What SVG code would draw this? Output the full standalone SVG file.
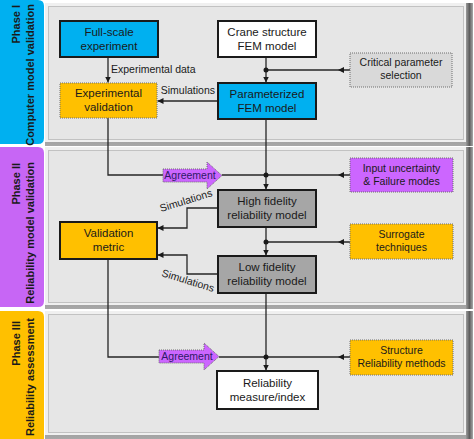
<svg xmlns="http://www.w3.org/2000/svg" width="474" height="439" viewBox="0 0 474 439">
<style>
.t{font-family:"Liberation Sans",Arial,sans-serif;font-size:11.5px;fill:#1a1a1a;text-anchor:middle}
.s{font-family:"Liberation Sans",Arial,sans-serif;font-size:10.5px;fill:#1a1a1a;text-anchor:middle}
.l{font-family:"Liberation Sans",Arial,sans-serif;font-size:10.5px;fill:#1a1a1a}
.ag{font-family:"Liberation Sans",Arial,sans-serif;font-size:10.5px;fill:#2e1a66;text-anchor:middle}
.tab{font-family:"Liberation Sans",Arial,sans-serif;font-size:11px;font-weight:bold;fill:#1a1a1a;text-anchor:end}
.main{stroke:#1a1a1a;stroke-width:2}
.dot{stroke:#6f6f6f;stroke-width:1;stroke-dasharray:1 1}
.c{fill:none;stroke:#262626;stroke-width:1.3}
.pin{fill:#e6e6e6;stroke:#c2c2c2;stroke-width:1}
.pfr{fill:#f0f0f0}
.blue{fill:#00b0f0}
.orange{fill:#ffc000}
.purple{fill:#cc66ff}
.gray{fill:#a6a6a6}
.lgray{fill:#d9d9d9}
.white{fill:#ffffff}
</style>
<defs>
<marker id="ah" viewBox="0 0 6 6" refX="6" refY="3" markerWidth="6" markerHeight="6" markerUnits="userSpaceOnUse" orient="auto">
<path d="M0,0 L6,3 L0,6 z" fill="#1a1a1a"/>
</marker>
<linearGradient id="shR" x1="0" y1="0" x2="1" y2="0">
<stop offset="0" stop-color="#9a9a9a"/><stop offset="0.5" stop-color="#5e5e5e"/><stop offset="1" stop-color="#a8a8a8"/>
</linearGradient>
<linearGradient id="shB" x1="0" y1="0" x2="0" y2="1">
<stop offset="0" stop-color="#9a9a9a"/><stop offset="0.5" stop-color="#5e5e5e"/><stop offset="1" stop-color="#a8a8a8"/>
</linearGradient>
</defs>
<rect width="474" height="439" fill="#ffffff"/>

<!-- Panels -->
<g id="panel1">
<rect x="45" y="3" width="428" height="143" fill="url(#shB)"/>
<rect x="466" y="3" width="7" height="143" fill="url(#shR)"/>
<rect class="pfr" x="45" y="3" width="421" height="139"/>
<rect class="pin" x="48.5" y="6.5" width="415" height="133"/>
</g>
<g id="panel2">
<rect x="45" y="147" width="428" height="162" fill="url(#shB)"/>
<rect x="466" y="147" width="7" height="162" fill="url(#shR)"/>
<rect class="pfr" x="45" y="147" width="421" height="158"/>
<rect class="pin" x="48.5" y="150.5" width="415" height="152"/>
</g>
<g id="panel3">
<rect x="45" y="311" width="428" height="128" fill="url(#shB)"/>
<rect x="466" y="311" width="7" height="128" fill="url(#shR)"/>
<rect class="pfr" x="45" y="311" width="421" height="124"/>
<rect class="pin" x="48.5" y="314.5" width="415" height="118"/>
</g>

<!-- Phase tabs -->
<g id="tab1">
<path d="M0,0 H38 Q44,0 44,6 V138 Q44,144 38,144 H0 z" fill="#00b0f0"/>
<text class="tab" transform="translate(20,5) rotate(-90)">Phase I</text>
<text class="tab" transform="translate(34,4) rotate(-90)">Computer model validation</text>
</g>
<g id="tab2">
<path d="M0,147 H38 Q44,147 44,153 V301 Q44,307 38,307 H0 z" fill="#c766f5"/>
<text class="tab" transform="translate(20,163) rotate(-90)">Phase II</text>
<text class="tab" transform="translate(34,162) rotate(-90)">Reliability model validation</text>
</g>
<g id="tab3">
<path d="M0,311 H38 Q44,311 44,317 V439 H0 z" fill="#ffc000"/>
<text class="tab" transform="translate(20,321) rotate(-90)">Phase III</text>
<text class="tab" transform="translate(34,318) rotate(-90)">Reliability assessment</text>
</g>

<!-- Connectors -->
<g id="connectors">
<path class="c" d="M108,57 V82.5" marker-end="url(#ah)"/>
<path class="c" d="M266,57 V82.5" marker-end="url(#ah)"/>
<path class="c" d="M350,70 H266"/>
<path d="M338,70 L344,67 L344,73 z" fill="#1a1a1a"/>
<path class="c" d="M218,101 H157.5" marker-end="url(#ah)"/>
<path class="c" d="M108,118 V175 H163"/>
<path class="c" d="M222,175 H266"/>
<path class="c" d="M266,119 V189.5" marker-end="url(#ah)"/>
<path class="c" d="M350,175 H266"/>
<path d="M338,175 L344,172 L344,178 z" fill="#1a1a1a"/>
<path class="c" d="M218,208 H187 V228 H157.5" marker-end="url(#ah)"/>
<path class="c" d="M218,274 H187 V255 H157.5" marker-end="url(#ah)"/>
<path class="c" d="M266,227 V255.5" marker-end="url(#ah)"/>
<path class="c" d="M350,242 H266"/>
<path d="M338,242 L344,239 L344,245 z" fill="#1a1a1a"/>
<path class="c" d="M108,259 V357 H159"/>
<path class="c" d="M219,357 H266"/>
<path class="c" d="M266,293 V370.5" marker-end="url(#ah)"/>
<path class="c" d="M350,357 H266"/>
<path d="M338,357 L344,354 L344,360 z" fill="#1a1a1a"/>
<circle cx="266" cy="70" r="2.5" fill="#1a1a1a"/>
<circle cx="266" cy="175" r="2.5" fill="#1a1a1a"/>
<circle cx="266" cy="242" r="2.5" fill="#1a1a1a"/>
<circle cx="266" cy="357" r="2.5" fill="#1a1a1a"/>
<text class="l" x="111" y="73">Experimental data</text>
<text class="l" x="215" y="94" text-anchor="end">Simulations</text>
<text class="l" transform="translate(187,204) rotate(-17)" text-anchor="middle">Simulations</text>
<text class="l" transform="translate(187,284) rotate(17)" text-anchor="middle">Simulations</text>
</g>

<!-- Nodes -->
<g id="full-scale">
<rect class="blue main" x="60" y="21" width="98" height="36"/>
<text class="t" x="109" y="35.5">Full-scale</text>
<text class="t" x="109" y="49.5">experiment</text>
</g>
<g id="crane">
<rect class="white main" x="218" y="21" width="98" height="36"/>
<text class="t" x="267" y="35.5">Crane structure</text>
<text class="t" x="267" y="49.5">FEM model</text>
</g>
<g id="critical">
<rect class="lgray dot" x="350" y="53" width="102" height="34"/>
<text class="s" x="401" y="66">Critical parameter</text>
<text class="s" x="401" y="79">selection</text>
</g>
<g id="exp-validation">
<rect class="orange dot" x="60" y="83" width="97" height="35"/>
<text class="t" x="108.5" y="97">Experimental</text>
<text class="t" x="108.5" y="111">validation</text>
</g>
<g id="param-fem">
<rect class="blue main" x="218" y="83" width="98" height="36"/>
<text class="t" x="267" y="97.5">Parameterized</text>
<text class="t" x="267" y="111.5">FEM model</text>
</g>
<g id="agreement1">
<path class="purple dot" d="M163,169 H207 V162 L222,175.5 L207,189 V182 H163 z"/>
<text class="ag" x="190" y="179">Agreement</text>
</g>
<g id="input-uncertainty">
<rect class="purple dot" x="350" y="158" width="103" height="34"/>
<text class="s" x="401.5" y="171.5">Input uncertainty</text>
<text class="s" x="401.5" y="184.5">&amp; Failure modes</text>
</g>
<g id="high-fidelity">
<rect class="gray main" x="218" y="190" width="98" height="37"/>
<text class="t" x="267" y="205">High fidelity</text>
<text class="t" x="267" y="219">reliability model</text>
</g>
<g id="validation-metric">
<rect class="orange main" x="60" y="222" width="97" height="37"/>
<text class="t" x="108.5" y="237">Validation</text>
<text class="t" x="108.5" y="251">metric</text>
</g>
<g id="surrogate">
<rect class="orange dot" x="350" y="224" width="103" height="35"/>
<text class="s" x="401.5" y="238">Surrogate</text>
<text class="s" x="401.5" y="251">techniques</text>
</g>
<g id="low-fidelity">
<rect class="gray main" x="218" y="256" width="98" height="37"/>
<text class="t" x="267" y="271">Low fidelity</text>
<text class="t" x="267" y="285">reliability model</text>
</g>
<g id="agreement2">
<path class="purple dot" d="M159,350 H204 V343 L219,356.5 L204,370 V363 H159 z"/>
<text class="ag" x="187" y="360">Agreement</text>
</g>
<g id="structure-reliability">
<rect class="orange dot" x="350" y="340" width="103" height="35"/>
<text class="s" x="401.5" y="354">Structure</text>
<text class="s" x="401.5" y="367">Reliability methods</text>
</g>
<g id="reliability-measure">
<rect class="white main" x="217" y="371" width="101" height="38"/>
<text class="t" x="267.5" y="386.5">Reliability</text>
<text class="t" x="267.5" y="400.5">measure/index</text>
</g>
</svg>
